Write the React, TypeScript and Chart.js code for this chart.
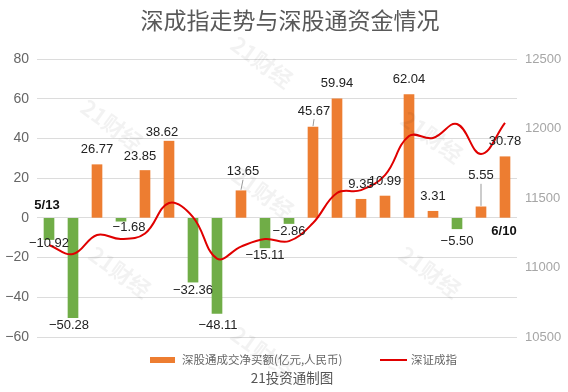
import { useEffect, useRef } from 'react';
import { Chart, registerables } from 'chart.js';

Chart.register(...registerables);

const categories = ['5/13', '5/16', '5/17', '5/18', '5/19', '5/20', '5/23', '5/24', '5/25', '5/26', '5/27', '5/30', '5/31', '6/1', '6/2', '6/6', '6/7', '6/8', '6/9', '6/10'];
const netBuy = [-10.92, -50.28, 26.77, -1.68, 23.85, 38.62, -32.36, -48.11, 13.65, -15.11, -2.86, 45.67, 59.94, 9.35, 10.99, 62.04, 3.31, -5.5, 5.55, 30.78];
const szIndex = [11162, 11097, 11234, 11205, 11245, 11464, 11363, 11064, 11150, 11205, 11190, 11320, 11536, 11557, 11665, 11946, 11932, 12032, 11817, 12040];

const title = '深成指走势与深股通资金情况';
const barLegend = '深股通成交净买额(亿元,人民币)';
const lineLegend = '深证成指';
const credit = '21投资通制图';
const watermark = '21财经';

const ORANGE = '#ED7D31';
const GREEN = '#70AD47';
const RED = '#E00000';
const LATIN = '"Liberation Sans", Arial, sans-serif';
const CJK = '"Noto Sans CJK SC", "Liberation Sans", sans-serif';

// label nudges [dx, dy] relative to default placement
const labelNudge: Record<number, [number, number]> = {
  0: [0, -4],
  1: [-4, 0],
  3: [8, -2],
  4: [-5, 1],
  5: [-7, 6],
  7: [1, 4],
  8: [2, -4],
  11: [1, -1],
  18: [0, -16],
  17: [0, 5],
};
const leaderIdx = [8, 11, 18];

const fmt = (v: number) => (v < 0 ? '\u2212' + Math.abs(v).toFixed(2) : v.toFixed(2));

const overlayPlugin = {
  id: 'overlay',
  afterDatasetsDraw(chart: any) {
    const ctx = chart.ctx as CanvasRenderingContext2D;
    const meta = chart.getDatasetMeta(1);
    const zeroY = chart.scales.y.getPixelForValue(0);
    ctx.save();
    ctx.textAlign = 'center';
    ctx.textBaseline = 'middle';
    meta.data.forEach((bar: any, i: number) => {
      const v = netBuy[i];
      const n = labelNudge[i] || [0, 0];
      const x = bar.x + n[0];
      const y = (v >= 0 ? bar.y - 15 : bar.y + 8) + n[1];
      if (leaderIdx.includes(i)) {
        ctx.strokeStyle = '#999';
        ctx.lineWidth = 1;
        ctx.beginPath();
        ctx.moveTo(bar.x, bar.y - 1);
        ctx.lineTo(x, y + 8);
        ctx.stroke();
      }
      ctx.fillStyle = '#222';
      ctx.font = `13px ${LATIN}`;
      ctx.fillText(fmt(v), x, y);
    });
    // first / last date labels
    ctx.font = `bold 13px ${LATIN}`;
    ctx.fillStyle = '#111';
    const first = meta.data[0];
    const last = meta.data[meta.data.length - 1];
    ctx.fillText(categories[0], first.x - 2, zeroY - 12);
    ctx.fillText(categories[categories.length - 1], last.x - 1, zeroY + 14);
    ctx.restore();
  },
  afterDraw(chart: any) {
    const ctx = chart.ctx as CanvasRenderingContext2D;
    ctx.save();
    // title
    ctx.textAlign = 'center';
    ctx.textBaseline = 'middle';
    ctx.fillStyle = '#595959';
    ctx.font = `23px ${CJK}`;
    ctx.fillText(title, 290, 20);
    // legend
    ctx.fillStyle = ORANGE;
    ctx.fillRect(150, 357, 25, 6);
    ctx.font = `11.5px ${CJK}`;
    ctx.fillStyle = '#666';
    ctx.textAlign = 'left';
    ctx.fillText(barLegend, 182, 360);
    ctx.strokeStyle = RED;
    ctx.lineWidth = 2;
    ctx.beginPath();
    ctx.moveTo(380, 360);
    ctx.lineTo(407, 360);
    ctx.stroke();
    ctx.fillText(lineLegend, 411, 360);
    // credit
    ctx.textAlign = 'center';
    ctx.fillStyle = '#555';
    ctx.font = `13.5px ${CJK}`;
    ctx.fillText(credit, 292, 378);
    // watermarks
    const spots = [[262, 62], [112, 125], [432, 137], [263, 193], [120, 272], [430, 272], [262, 352]];
    ctx.font = `bold 22px ${CJK}`;
    ctx.fillStyle = 'rgba(0,0,0,0.05)';
    spots.forEach(([x, y]) => {
      ctx.save();
      ctx.translate(x, y);
      ctx.rotate((36 * Math.PI) / 180);
      ctx.fillText(watermark, 0, 0);
      ctx.restore();
    });
    ctx.restore();
  },
};

export default function App() {
  const ref = useRef<HTMLCanvasElement | null>(null);
  useEffect(() => {
    if (!ref.current) return;
    const chart = new Chart(ref.current, {
      type: 'bar',
      data: {
        labels: categories,
        datasets: [
          {
            type: 'line',
            label: lineLegend,
            data: szIndex,
            yAxisID: 'y1',
            borderColor: RED,
            borderWidth: 2,
            tension: 0.4,
            pointRadius: 0,
            order: 0,
          } as any,
          {
            type: 'bar',
            label: barLegend,
            data: netBuy,
            yAxisID: 'y',
            backgroundColor: netBuy.map((v) => (v >= 0 ? ORANGE : GREEN)),
            barThickness: 10,
            order: 1,
          },
        ],
      },
      options: {
        animation: false,
        responsive: false,
        devicePixelRatio: 1,
        layout: { padding: { top: 59, bottom: 55, left: 0, right: 0 } },
        plugins: { legend: { display: false }, title: { display: false }, tooltip: { enabled: false } },
        scales: {
          x: { display: false, offset: true },
          y: {
            position: 'left',
            min: -60,
            max: 80,
            ticks: {
              stepSize: 20,
              color: '#666',
              padding: 8,
              font: { size: 14, family: LATIN },
              callback: (v: any) => String(v).replace('-', '\u2212'),
            },
            grid: { color: '#dcdcdc', drawTicks: false },
            border: { display: false },
            afterFit: (s: any) => {
              s.width = 37;
            },
          },
          y1: {
            position: 'right',
            min: 10500,
            max: 12500,
            ticks: {
              stepSize: 500,
              color: '#a6a6a6',
              padding: 8,
              font: { size: 13, family: LATIN },
              callback: (v: any) => String(v),
            },
            grid: { display: false, drawTicks: false },
            border: { display: false },
            afterFit: (s: any) => {
              s.width = 51;
            },
          },
        },
      },
      plugins: [overlayPlugin],
    });
    return () => chart.destroy();
  }, []);
  return (
    <div style={{ position: 'fixed', left: 0, top: 0, width: 568, height: 392, background: '#fff' }}>
      <canvas ref={ref} width={568} height={392} />
    </div>
  );
}
